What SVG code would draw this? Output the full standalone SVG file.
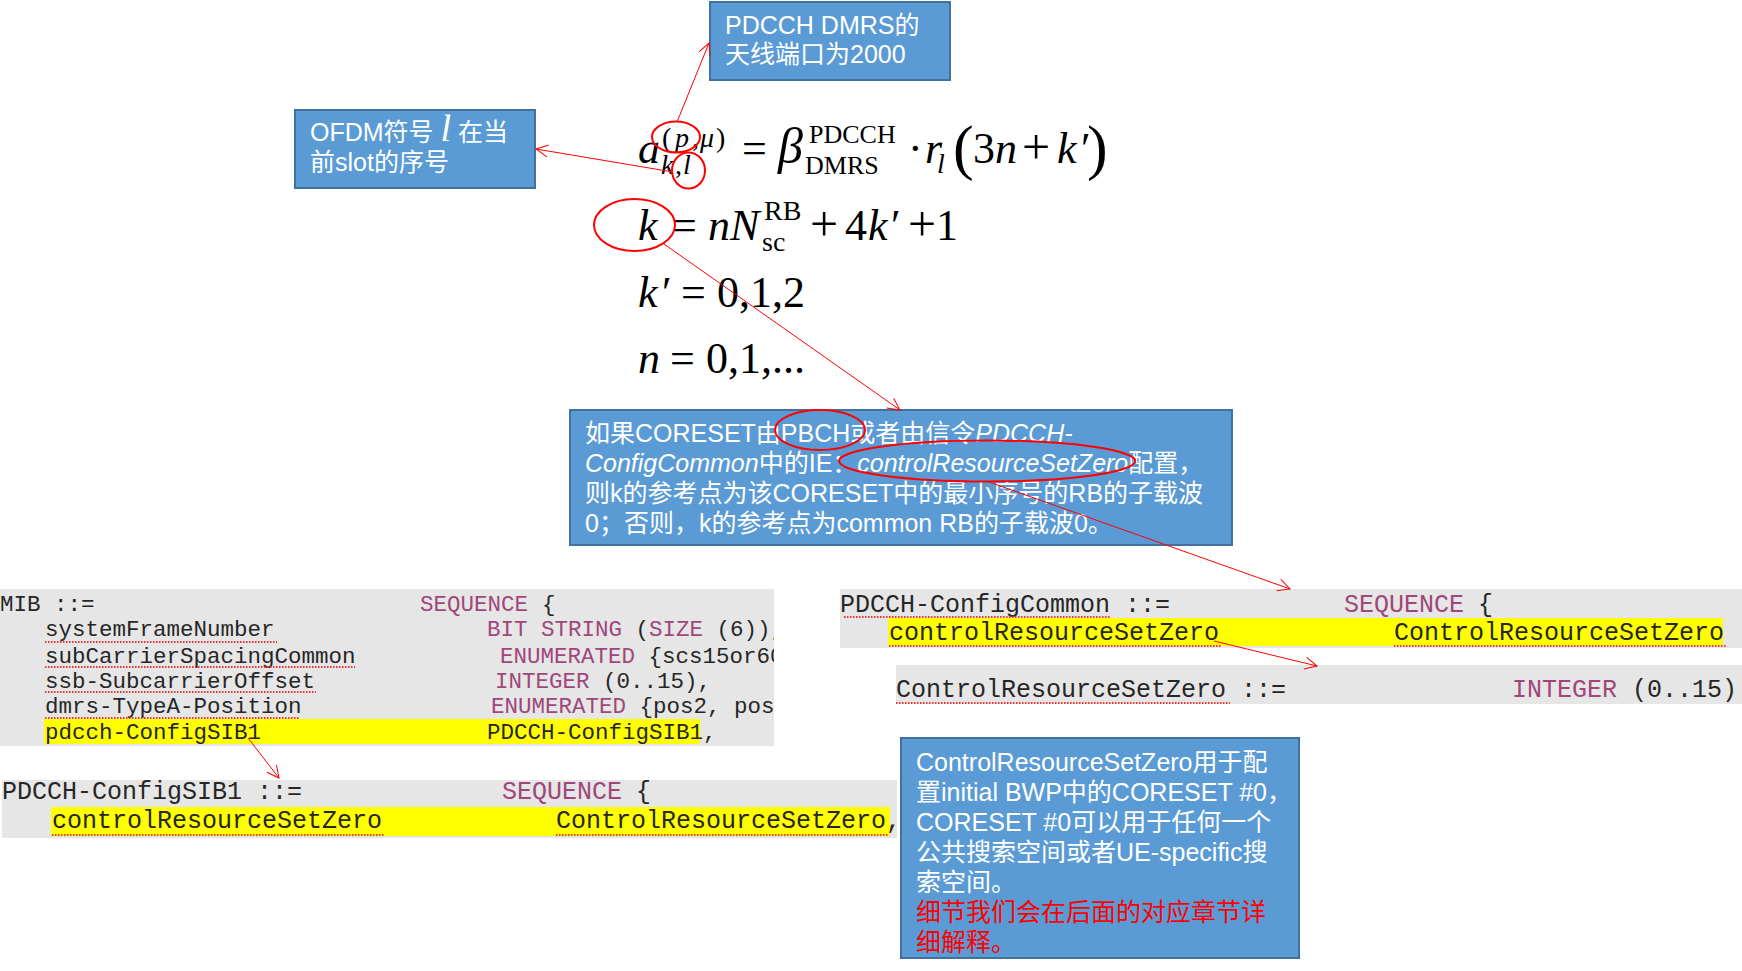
<svg xmlns="http://www.w3.org/2000/svg" width="1742" height="971" viewBox="0 0 1742 971">
<style>
.box{fill:#5B9BD5;stroke:#41719C;stroke-width:2}
.t{font-family:"Liberation Sans","Noto Sans CJK SC",sans-serif;font-size:25px;fill:#fff}
.i{font-style:italic}
.m{font-family:"Liberation Serif",serif;fill:#000}
.b{font-size:44px}
.s{font-size:28px}
.s2{font-size:26px}
.p{font-size:50px}
.it{font-style:italic}
.c{font-family:"Liberation Mono",monospace;fill:#262626}
.c1{font-size:22.5px}
.c2{font-size:25px}
.k{fill:#a0467a}
.gr{fill:#e6e6e6}
.y{fill:#ff0}
.sq{stroke:#e33;stroke-width:2;stroke-dasharray:1.5 1.5;fill:none}
.ring{fill:none;stroke:#f00;stroke-width:2}
.ln{stroke:#f00;stroke-width:1;fill:none}
</style>
<defs>
<marker id="a" markerUnits="userSpaceOnUse" markerWidth="18" markerHeight="18" refX="13" refY="7" orient="auto" viewBox="0 0 18 14"><path d="M1 1L13 7L1 13" fill="none" stroke="#f00" stroke-width="1"/></marker>
<clipPath id="mibclip"><rect x="0" y="589" width="774" height="157"/></clipPath>
</defs>
<g id="formula">
<text class="m b it" x="638" y="163">a</text>
<text class="m s" x="662" y="147">(</text><text class="m s it" x="675" y="147">p</text><text class="m s" x="692" y="147">,</text><text class="m s it" x="700" y="147">μ</text><text class="m s" x="716" y="147">)</text>
<text class="m s it" x="661" y="174">k</text><text class="m s" x="675" y="174">,</text><text class="m s it" x="683" y="174">l</text>
<text class="m b" x="742" y="163">=</text>
<text class="m it" font-size="50" x="778" y="163">β</text>
<text class="m s2" x="809" y="143">PDCCH</text><text class="m s2" x="805" y="174">DMRS</text>
<text class="m b" x="908" y="163">·</text>
<text class="m b it" x="925" y="163">r</text><text class="m s it" x="937" y="173">l</text>
<text class="m" font-size="62" x="953" y="168">(</text>
<text class="m b" x="973" y="163">3</text><text class="m b it" x="995" y="163">n</text>
<text class="m p" x="1022" y="164">+</text>
<text class="m b it" x="1057" y="163">k</text><text class="m b" x="1081" y="163">′</text>
<text class="m" font-size="62" x="1087" y="168">)</text>

<text class="m b it" x="638" y="240">k</text>
<text class="m b" x="672" y="240">=</text>
<text class="m b it" x="708" y="240">n</text><text class="m b it" x="730" y="240">N</text>
<text class="m s" x="764" y="220">RB</text><text class="m s" x="762" y="251">sc</text>
<text class="m p" x="810" y="241">+</text>
<text class="m b" x="845" y="240">4</text><text class="m b it" x="868" y="240">k</text><text class="m b" x="891" y="240">′</text>
<text class="m p" x="908" y="241">+</text><text class="m b" x="936" y="240">1</text>

<text class="m b it" x="638" y="307">k</text><text class="m b" x="662" y="307">′</text>
<text class="m b" x="681" y="307">=</text>
<text class="m b" x="717" y="307">0,1,2</text>

<text class="m b it" x="638" y="373">n</text>
<text class="m b" x="670" y="373">=</text>
<text class="m b" x="706" y="373">0,1,...</text>
</g>
<g id="code-mib" clip-path="url(#mibclip)">
<rect class="gr" x="0" y="589" width="774" height="157"/>
<rect class="y" x="44" y="719" width="656" height="25"/>
<text class="c c1" x="0" y="611">MIB ::=</text><text class="c c1 k" x="420" y="611">SEQUENCE</text><text class="c c1" x="542" y="611">{</text>
<text class="c c1" x="45" y="636">systemFrameNumber</text><text class="c c1" x="487" y="636"><tspan class="k">BIT STRING</tspan> (<tspan class="k">SIZE</tspan> (6)),</text>
<text class="c c1" x="45" y="663">subCarrierSpacingCommon</text><text class="c c1" x="500" y="663"><tspan class="k">ENUMERATED</tspan> {scs15or60</text>
<text class="c c1" x="45" y="688">ssb-SubcarrierOffset</text><text class="c c1" x="495" y="688"><tspan class="k">INTEGER</tspan> (0..15),</text>
<text class="c c1" x="45" y="713">dmrs-TypeA-Position</text><text class="c c1" x="491" y="713"><tspan class="k">ENUMERATED</tspan> {pos2, pos</text>
<text class="c c1" x="45" y="739">pdcch-ConfigSIB1</text><text class="c c1" x="487" y="739">PDCCH-ConfigSIB1,</text>
<path class="sq" d="M45 642H277M45 667H355M45 692H316M45 718H300"/>
</g>
<g id="code-sib1">
<rect class="gr" x="2" y="780" width="895" height="58"/>
<rect class="y" x="51" y="807" width="839" height="29"/>
<text class="c c2" x="2" y="799">PDCCH-ConfigSIB1 ::=</text><text class="c c2 k" x="502" y="799">SEQUENCE</text><text class="c c2" x="636" y="799">{</text>
<text class="c c2" x="52" y="828">controlResourceSetZero</text><text class="c c2" x="556" y="828">ControlResourceSetZero,</text>
<path class="sq" d="M52 835H385M556 835H888"/>
</g>
<g id="code-common">
<rect class="gr" x="840" y="589" width="902" height="59"/>
<rect class="y" x="888" y="618" width="835" height="28"/>
<text class="c c2" x="840" y="612">PDCCH-ConfigCommon ::=</text><text class="c c2 k" x="1344" y="612">SEQUENCE</text><text class="c c2" x="1478" y="612">{</text>
<text class="c c2" x="889" y="640">controlResourceSetZero</text><text class="c c2" x="1394" y="640">ControlResourceSetZero</text>
<path class="sq" d="M844 617H1110M889 646H1222M1394 646H1726"/>
</g>
<g id="code-zero">
<rect class="gr" x="896" y="665" width="846" height="39"/>
<text class="c c2" x="896" y="697">ControlResourceSetZero ::=</text><text class="c c2" x="1512" y="697"><tspan class="k">INTEGER</tspan> (0..15)</text>
<path class="sq" d="M896 703H1230"/>
</g>
<g id="node-port">
<rect class="box" x="710" y="2" width="240" height="78"/>
<text class="t" x="725" y="34">PDCCH DMRS的</text>
<text class="t" x="725" y="63">天线端口为2000</text>
</g>
<g id="node-ofdm">
<rect class="box" x="295" y="110" width="240" height="78"/>
<text class="t" x="310" y="141">OFDM符号 <tspan font-family="Liberation Serif" font-style="italic" font-size="38">l</tspan> 在当</text>
<text class="t" x="310" y="171">前slot的序号</text>
</g>
<g id="node-coreset">
<rect class="box" x="570" y="410" width="662" height="135"/>
<text class="t" x="585" y="442">如果CORESET由PBCH或者由信令<tspan class="i">PDCCH-</tspan></text>
<text class="t" x="585" y="472"><tspan class="i">ConfigCommon</tspan>中的IE：<tspan class="i">controlResourceSetZero</tspan>配置，</text>
<text class="t" x="585" y="502">则k的参考点为该CORESET中的最小序号的RB的子载波</text>
<text class="t" x="585" y="532">0；否则，k的参考点为common RB的子载波0。</text>
</g>
<g id="node-note">
<rect class="box" x="901" y="738" width="398" height="220"/>
<text class="t" x="916" y="771">ControlResourceSetZero用于配</text>
<text class="t" x="916" y="801">置initial BWP中的CORESET #0，</text>
<text class="t" x="916" y="831">CORESET #0可以用于任何一个</text>
<text class="t" x="916" y="861">公共搜索空间或者UE-specific搜</text>
<text class="t" x="916" y="891">索空间。</text>
<text class="t" style="fill:#f00" x="916" y="921">细节我们会在后面的对应章节详</text>
<text class="t" style="fill:#f00" x="916" y="951">细解释。</text>
</g>
<g id="connectors">
<ellipse class="ring" cx="676" cy="137" rx="24" ry="15.5"/>
<ellipse class="ring" cx="688.5" cy="170.5" rx="16.5" ry="18"/>
<ellipse class="ring" cx="634.5" cy="225" rx="40.5" ry="26"/>
<ellipse class="ring" cx="820" cy="430" rx="45" ry="20"/>
<ellipse class="ring" cx="987" cy="461" rx="148" ry="20.5"/>
<path class="ln" marker-end="url(#a)" d="M677 122L709 43"/>
<path class="ln" marker-end="url(#a)" d="M673 172L536 149"/>
<path class="ln" marker-end="url(#a)" d="M664 244L900 410"/>
<path class="ln" marker-end="url(#a)" d="M989 482L1290 589"/>
<path class="ln" marker-end="url(#a)" d="M248 738L279 778"/>
<path class="ln" marker-end="url(#a)" d="M1214 641L1317 666"/>
</g>
</svg>
